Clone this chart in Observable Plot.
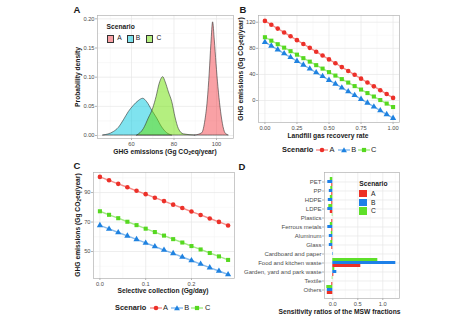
<!DOCTYPE html>
<html><head><meta charset="utf-8">
<script src="https://cdn.jsdelivr.net/npm/d3@7"></script>
<script src="https://cdn.jsdelivr.net/npm/@observablehq/plot@0.6"></script>
<style>
body{margin:0;background:#fff;}
#root{position:relative;width:474px;height:324px;background:#fff;font-family:"Liberation Sans",Arial,sans-serif;overflow:hidden;}
.pan{position:absolute;}
.lab{position:absolute;white-space:nowrap;line-height:1;}
</style></head>
<body><div id="root"></div>
<script>
// ---------- Data ----------
const scenarios = ["A", "B", "C"];
// Panel A: probability density of GHG emissions
const densAx = [90, 93.3, 94.8, 95.9, 96.8, 97.6, 98.4, 99.2, 100, 100.9, 101.9, 103, 104.2, 105.8];
const densAy = [0, 0.004, 0.026, 0.060, 0.106, 0.157, 0.194, 0.163, 0.123, 0.083, 0.048, 0.020, 0.004, 0];
const densBx = [46.7, 51.7, 54.0, 56.4, 58.7, 61.1, 63.4, 65.5, 67.4, 69.7, 72.1, 74.4, 76.8, 79.2];
const densBy = [0, 0.006, 0.013, 0.026, 0.040, 0.051, 0.059, 0.063, 0.057, 0.043, 0.029, 0.014, 0.004, 0];
const densCx = [62.7, 65.8, 68.1, 70.2, 71.8, 73.3, 74.9, 76.1, 77.6, 79.2, 80.7, 82.3, 84.6, 90];
const densCy = [0, 0.011, 0.029, 0.046, 0.066, 0.089, 0.100, 0.091, 0.074, 0.057, 0.031, 0.011, 0.002, 0];
// Panel B: landfill gas recovery rate
const recovery = [0, 0.05, 0.1, 0.15, 0.2, 0.25, 0.3, 0.35, 0.4, 0.45, 0.5, 0.55, 0.6, 0.65, 0.7, 0.75, 0.8, 0.85, 0.9, 0.95, 1];
const recA = [122, 116.1, 110.2, 104.3, 98.4, 92.5, 86.6, 80.7, 74.8, 68.9, 63, 57.1, 51.2, 45.3, 39.4, 33.5, 27.6, 21.7, 15.8, 9.9, 4];
const recB = [89.5, 83.7, 77.9, 72, 66.2, 60.4, 54.6, 48.7, 42.9, 37.1, 31.3, 25.4, 19.6, 13.8, 8, 2.1, -3.7, -9.5, -15.4, -21.2, -27];
const recC = [97, 91.7, 86.3, 81, 75.6, 70.3, 64.9, 59.6, 54.2, 48.9, 43.5, 38.2, 32.8, 27.5, 22.1, 16.8, 11.4, 6.1, 0.7, -4.7, -10];
// Panel C: selective collection
const selective = [0, 0.02, 0.04, 0.06, 0.08, 0.1, 0.12, 0.14, 0.16, 0.18, 0.2, 0.22, 0.24, 0.26, 0.28];
const selA = [100.6, 98.3, 95.9, 93.6, 91.2, 88.9, 86.5, 84.2, 81.8, 79.5, 77.1, 74.8, 72.4, 70.1, 67.7];
const selB = [67.7, 65.3, 62.9, 60.6, 58.2, 55.8, 53.4, 51.0, 48.7, 46.3, 43.9, 41.5, 39.1, 36.8, 34.4];
const selC = [77.3, 74.9, 72.6, 70.2, 67.9, 65.5, 63.2, 60.8, 58.4, 56.1, 53.7, 51.4, 49.0, 46.7, 44.3];
// Panel D: sensitivity ratios
const fractions = ["PET", "PP", "HDPE", "LDPE", "Plastics", "Ferrous metals", "Aluminum", "Glass",
  "Cardboard and paper", "Food and kitchen waste", "Garden, yard and park waste", "Textile", "Others"];
const sensA = [-0.02, -0.02, -0.02, -0.05, -0.02, -0.02, -0.02, -0.02, 0, 0.56, 0.02, -0.02, -0.11];
const sensB = [-0.10, -0.07, -0.09, -0.10, 0, -0.10, -0.07, -0.07, 0.01, 1.26, 0.08, 0, -0.11];
const sensC = [-0.05, -0.04, -0.05, -0.08, -0.01, -0.05, -0.03, -0.04, 0, 0.90, 0.04, -0.01, -0.12];
// Tick labels
const ticksAx = [60, 80, 100], ticksAy = [0, 0.05, 0.1, 0.15, 0.2];
const ticksBx = [0, 0.25, 0.5, 0.75, 1], ticksBy = [0, 40, 80, 120];
const ticksCx = [0, 0.1, 0.2], ticksCy = [50, 70, 90];
const ticksDx = [0, 0.5, 1];

// ---------- Styles ----------
const densFill = {A: "#f3434b", B: "#00c8df", C: "#6adf00"};
const ptCol = {A: "#ec3029", B: "#1f82e0", C: "#56d820"};
const barCol = {A: "#ec3026", B: "#1d80e8", C: "#5fe02a"};
const shapes = {A: "circle", B: "triangle", C: "square"};
const FONT = "Liberation Sans, Arial, sans-serif";
const TICKC = "#4d4d4d", TICKS = "#b3b3b3", GRID = "#e6e6e6", GRIDM = "#f2f2f2";

const root = document.getElementById("root");
function place(el, left, top) {
  const d = document.createElement("div"); d.className = "pan";
  d.style.left = left + "px"; d.style.top = top + "px"; d.appendChild(el); root.appendChild(d);
}
function txt(html, x, y, o = {}) {
  const d = document.createElement("div"); d.className = "lab";
  d.innerHTML = html;
  d.style.fontSize = (o.size || 6.7) + "px";
  d.style.fontWeight = o.weight || "bold";
  d.style.color = o.color || "#1a1a1a";
  d.style.left = x + "px"; d.style.top = y + "px";
  const tx = o.anchor === "start" ? "0" : "-50%";
  d.style.transform = `translate(${tx},-50%)`;
  if (o.rotate) { d.style.transformOrigin = "50% 50%"; d.style.transform = `translate(-50%,-50%) rotate(${o.rotate}deg)`; }
  root.appendChild(d); return d;
}
const baseStyle = {fontFamily: FONT, fontSize: "6px", background: "transparent", overflow: "visible", color: TICKC};
const axOpts = {tickSize: 2, tickPadding: 1, fontSize: 5.7, fill: TICKC, stroke: TICKS, label: null};

// ---------- Panel A ----------
const densRows = [];
[[densAx, densAy, "A"], [densBx, densBy, "B"], [densCx, densCy, "C"]].forEach(([xs, ys, s]) =>
  xs.forEach((x, i) => densRows.push({x, y: ys[i], s})));
const pA = Plot.plot({
  width: 237, height: 162, marginLeft: 97, marginRight: 4, marginTop: 15, marginBottom: 24,
  style: baseStyle,
  x: {domain: [44, 108]}, y: {domain: [-0.0051, 0.2057]},
  color: {domain: scenarios, range: scenarios.map(s => densFill[s])},
  marks: [
    Plot.gridX([50, 70, 90], {stroke: GRIDM, strokeOpacity: 1, strokeWidth: 0.5}),
    Plot.gridY([0.025, 0.075, 0.125, 0.175], {stroke: GRIDM, strokeOpacity: 1, strokeWidth: 0.5}),
    Plot.gridX(ticksAx, {stroke: GRID, strokeOpacity: 1, strokeWidth: 0.7}),
    Plot.gridY(ticksAy, {stroke: GRID, strokeOpacity: 1, strokeWidth: 0.7}),
    ...scenarios.map(s => Plot.areaY(densRows.filter(d => d.s === s), {x: "x", y: "y", fill: "s", fillOpacity: 0.5, stroke: "#333", strokeWidth: 0.6, curve: "monotone-x"})),
    Plot.frame({stroke: TICKS, strokeWidth: 0.7}),
    Plot.axisX({...axOpts, ticks: ticksAx}),
    Plot.axisY({...axOpts, ticks: ticksAy, tickFormat: d3.format(".2f")})
  ]
});
place(pA, 0, 0);

// ---------- Panels B & C ----------
function linePanel(rows, xd, yd, xt, yt, xminor, yminor, xfmt, m) {
  return Plot.plot({
    width: 237, height: 162, ...m, style: baseStyle,
    x: {domain: xd}, y: {domain: yd},
    color: {domain: scenarios, range: scenarios.map(s => ptCol[s])},
    symbol: {domain: scenarios, range: scenarios.map(s => shapes[s])},
    marks: [
      Plot.gridX(xminor, {stroke: GRIDM, strokeOpacity: 1, strokeWidth: 0.5}),
      Plot.gridY(yminor, {stroke: GRIDM, strokeOpacity: 1, strokeWidth: 0.5}),
      Plot.gridX(xt, {stroke: GRID, strokeOpacity: 1, strokeWidth: 0.7}),
      Plot.gridY(yt, {stroke: GRID, strokeOpacity: 1, strokeWidth: 0.7}),
      Plot.line(rows, {x: "x", y: "y", z: "s", stroke: "s", strokeOpacity: 0.55, strokeWidth: 1.4}),
      Plot.dot(rows, {x: "x", y: "y", fill: "s", symbol: "s", r: 2.3, stroke: "none"}),
      Plot.frame({stroke: TICKS, strokeWidth: 0.7}),
      Plot.axisX({...axOpts, ticks: xt, tickFormat: xfmt}),
      Plot.axisY({...axOpts, ticks: yt})
    ]
  });
}
const recRows = [];
[[recA, "A"], [recB, "B"], [recC, "C"]].forEach(([ys, s]) => recovery.forEach((x, i) => recRows.push({x, y: ys[i], s})));
const pB = linePanel(recRows, [-0.05, 1.05], [-33.7, 130.3], ticksBx, ticksBy, [0.125, 0.375, 0.625, 0.875], [-20, 20, 60, 100],
  d3.format(".2f"), {marginLeft: 21, marginRight: 75, marginTop: 15, marginBottom: 40});
place(pB, 237, 0);

const selRows = [];
[[selA, "A"], [selB, "B"], [selC, "C"]].forEach(([ys, s]) => selective.forEach((x, i) => selRows.push({x, y: ys[i], s})));
const pC = linePanel(selRows, [-0.014, 0.294], [31.7, 103.6], ticksCx, ticksCy, [0.05, 0.15, 0.25], [40, 60, 80, 100],
  d3.format(".1f"), {marginLeft: 93, marginRight: 3, marginTop: 10, marginBottom: 46});
place(pC, 0, 162);

// ---------- Panel D ----------
const barOrder = ["C", "B", "A"];
const keys = fractions.flatMap(f => barOrder.map(s => f + "|" + s));
const sensRows = [];
[[sensA, "A"], [sensB, "B"], [sensC, "C"]].forEach(([vs, s]) => fractions.forEach((f, i) => sensRows.push({k: f + "|" + s, v: vs[i], s})));
const pD = Plot.plot({
  width: 237, height: 162, marginLeft: 87, marginRight: 75, marginTop: 10, marginBottom: 26,
  style: baseStyle,
  x: {domain: [-0.166, 1.334]},
  y: {domain: keys, paddingInner: 0, paddingOuter: 0.3},
  color: {domain: scenarios, range: scenarios.map(s => barCol[s])},
  marks: [
    Plot.gridX([0.25, 0.75, 1.25], {stroke: GRIDM, strokeOpacity: 1, strokeWidth: 0.5}),
    Plot.gridX(ticksDx, {stroke: GRID, strokeOpacity: 1, strokeWidth: 0.7}),
    Plot.gridY(fractions.map(f => f + "|B"), {stroke: GRID, strokeOpacity: 1, strokeWidth: 0.7}),
    Plot.barX(sensRows, {x: "v", y: "k", fill: "s"}),
    Plot.frame({stroke: TICKS, strokeWidth: 0.7}),
    Plot.axisX({...axOpts, ticks: ticksDx, tickFormat: d3.format(".1f")}),
    Plot.axisY({...axOpts, fontSize: 6, ticks: fractions.map(f => f + "|B"), tickFormat: d => d.split("|")[0]})
  ]
});
place(pD, 237, 162);

// ---------- Text: panel letters & axis titles ----------
const L = {size: 9.5};
txt("A", 77, 10, L); txt("B", 243, 10, L); txt("C", 77, 166, L); txt("D", 242, 167, L);
const co2 = "GHG emissions (Gg CO<sub style='font-size:0.7em;vertical-align:-0.25em'>2</sub>eq/year)";
txt("Probability density", 78, 77, {rotate: -90});
txt(co2, 165, 153);
txt(co2, 242, 69, {rotate: -90});
txt("Landfill gas recovery rate", 328, 135.5);
txt(co2, 79, 225, {rotate: -90});
txt("Selective collection (Gg/day)", 163, 291);
txt("Sensitivity ratios of the MSW fractions", 339.5, 311.5);

// ---------- Legends ----------
// Panel A (filled keys)
txt("Scenario", 106.5, 27, {anchor: "start", size: 6.7});
[["A", 106.7, 119.5], ["B", 126.7, 138], ["C", 145.7, 159]].forEach(([s, kx, tx]) => {
  const k = document.createElement("div"); k.className = "lab";
  Object.assign(k.style, {left: kx + "px", top: "34.5px", width: "5px", height: "6px", background: densFill[s] + "80", border: "0.6px solid #333"});
  root.appendChild(k);
  txt(s, tx, 37.8, {weight: "normal", size: 6.7, color: "#1a1a1a"});
});
// Panels B & C (point + line keys)
function keySvg(s) {
  const c = ptCol[s];
  let sym;
  if (s === "A") sym = `<circle cx="6" cy="4" r="2.3" fill="${c}"/>`;
  else if (s === "B") sym = `<polygon points="6,1.2 8.9,6.2 3.1,6.2" fill="${c}"/>`;
  else sym = `<rect x="3.9" y="1.9" width="4.2" height="4.2" fill="${c}"/>`;
  return `<svg width="12" height="8" style="display:block"><line x1="0" y1="4" x2="12" y2="4" stroke="${c}" stroke-opacity="0.55" stroke-width="1.4"/>${sym}</svg>`;
}
function lineLegend(y, sx, pos) {
  txt("Scenario", sx, y, {anchor: "start", size: 7.4});
  pos.forEach(([s, kx, tx]) => {
    txt(keySvg(s), kx, y, {weight: "normal"});
    txt(s, tx, y, {weight: "normal", size: 7.4});
  });
}
lineLegend(150, 282, [["A", 322, 332], ["B", 343.7, 353.7], ["C", 363.7, 373.7]]);
lineLegend(308, 115, [["A", 156, 165.5], ["B", 176.7, 186.7], ["C", 197, 207.7]]);
// Panel D (bar keys)
txt("Scenario", 359.3, 184, {anchor: "start", size: 6.7});
[["A", 189.7, 193.5], ["B", 198.7, 202.5], ["C", 207.3, 211.3]].forEach(([s, ky, ty]) => {
  const k = document.createElement("div"); k.className = "lab";
  Object.assign(k.style, {left: "359.3px", top: ky + "px", width: "8px", height: "7.6px", background: barCol[s]});
  root.appendChild(k);
  txt(s, 371, ty, {anchor: "start", weight: "normal", size: 6.7});
});
</script></body></html>
